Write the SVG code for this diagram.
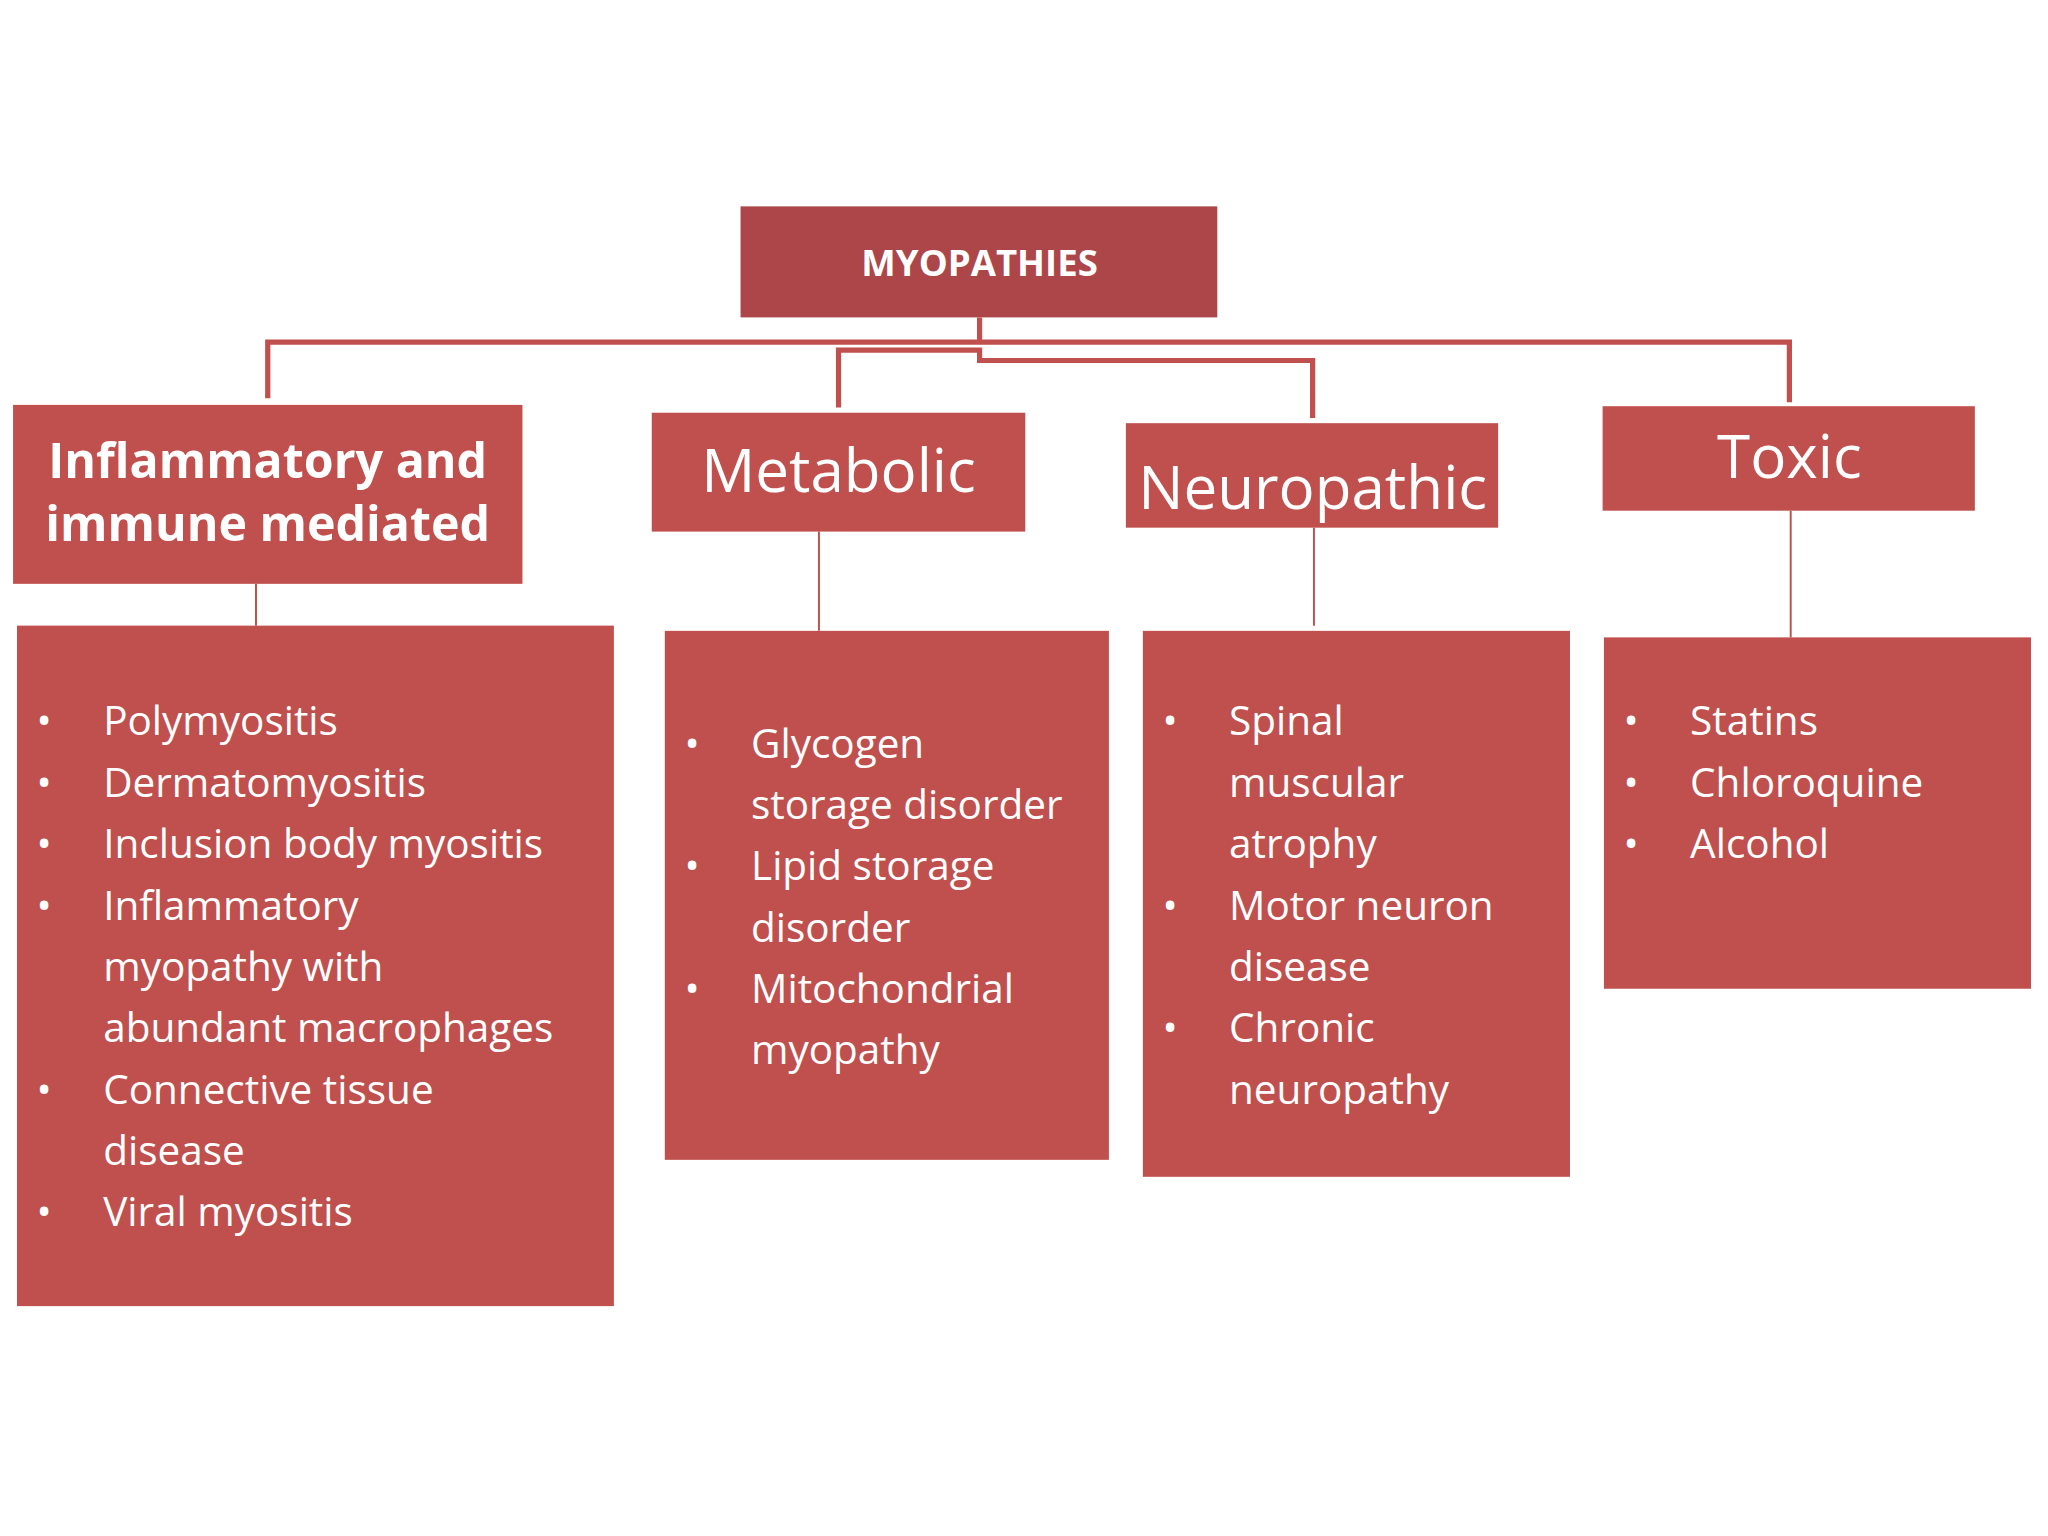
<svg xmlns="http://www.w3.org/2000/svg" width="2048" height="1536" viewBox="0 0 2048 1536">
<style>
.b{fill:#C0504D}
.t{fill:#fff;font-family:"Open Sans","Noto Sans",sans-serif}
.l{font-size:31px}
.h{font-size:46px}
.c{stroke:#C0504D;stroke-width:4;fill:none}
.v{stroke:#C0504D;stroke-width:1.5;fill:none}
</style>
<rect width="2048" height="1536" fill="#fff"/>
<g transform="scale(1.30612)">
<g id="connectors">
<path class="c" d="M750 243V262M205 305V262H1370V308M642 312V268H750V276H1005V320"/>
<path class="v" d="M196 447V479M627 407V483M1006 404V479M1371 391V488"/>
</g>
<g id="root"><rect x="567" y="158" width="365" height="85" fill="#AC4649"/><text class="t" x="750" y="211" font-size="28" font-weight="bold" text-anchor="middle">MYOPATHIES</text></g>
<g id="inflammatory"><rect class="b" x="10" y="310" width="390" height="137"/><text class="t" x="205" y="366" font-size="37" font-weight="bold" text-anchor="middle">Inflammatory and</text><text class="t" x="205" y="414" font-size="37" font-weight="bold" text-anchor="middle">immune mediated</text></g>
<g id="metabolic"><rect class="b" x="499" y="316" width="286" height="91"/><text class="t h" x="642" y="377" text-anchor="middle">Metabolic</text></g>
<g id="neuropathic"><rect class="b" x="862" y="324" width="285" height="80"/><text class="t h" x="1005" y="390" text-anchor="middle">Neuropathic</text></g>
<g id="toxic"><rect class="b" x="1227" y="311" width="285" height="80"/><text class="t h" x="1370" y="366" text-anchor="middle">Toxic</text></g>
<g id="list1"><rect class="b" x="13" y="479" width="457" height="521"/>
<g class="t l"><text x="28" y="563">•</text><text x="79" y="563">Polymyositis</text>
<text x="28" y="610">•</text><text x="79" y="610">Dermatomyositis</text>
<text x="28" y="657">•</text><text x="79" y="657">Inclusion body myositis</text>
<text x="28" y="704">•</text><text x="79" y="704">Inflammatory</text><text x="79" y="751">myopathy with</text><text x="79" y="798">abundant macrophages</text>
<text x="28" y="845">•</text><text x="79" y="845">Connective tissue</text><text x="79" y="892">disease</text>
<text x="28" y="939">•</text><text x="79" y="939">Viral myositis</text></g></g>
<g id="list2"><rect class="b" x="509" y="483" width="340" height="405"/>
<g class="t l"><text x="524" y="580">•</text><text x="575" y="580">Glycogen</text><text x="575" y="627">storage disorder</text>
<text x="524" y="674">•</text><text x="575" y="674">Lipid storage</text><text x="575" y="721">disorder</text>
<text x="524" y="768">•</text><text x="575" y="768">Mitochondrial</text><text x="575" y="815">myopathy</text></g></g>
<g id="list3"><rect class="b" x="875" y="483" width="327" height="418"/>
<g class="t l"><text x="890" y="563">•</text><text x="941" y="563">Spinal</text><text x="941" y="610">muscular</text><text x="941" y="657">atrophy</text>
<text x="890" y="704">•</text><text x="941" y="704">Motor neuron</text><text x="941" y="751">disease</text>
<text x="890" y="798">•</text><text x="941" y="798">Chronic</text><text x="941" y="845">neuropathy</text></g></g>
<g id="list4"><rect class="b" x="1228" y="488" width="327" height="269"/>
<g class="t l"><text x="1243" y="563">•</text><text x="1294" y="563">Statins</text>
<text x="1243" y="610">•</text><text x="1294" y="610">Chloroquine</text>
<text x="1243" y="657">•</text><text x="1294" y="657">Alcohol</text></g></g>
</g>
</svg>
